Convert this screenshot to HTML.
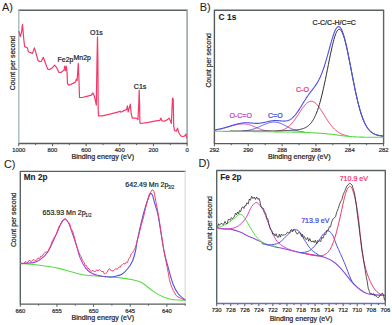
<!DOCTYPE html>
<html><head><meta charset="utf-8"><style>
html,body{margin:0;padding:0;background:#fff;}
svg{display:block;font-family:"Liberation Sans", sans-serif;}
</style></head><body>
<svg width="392" height="325" viewBox="0 0 392 325">
<rect width="392" height="325" fill="#fff"/>
<text x="2.0" y="10.9" text-anchor="start" font-size="10.9" font-weight="normal" fill="#1e1e1e" stroke="#1e1e1e" stroke-width="0.05" >A)</text>
<line x1="18.3" y1="10.3" x2="187.6" y2="10.3" stroke="#586064" stroke-width="1.4"/>
<line x1="187.1" y1="10.3" x2="187.1" y2="143.5" stroke="#8c9a9c" stroke-width="1.4"/>
<line x1="18.3" y1="143.5" x2="187.6" y2="143.5" stroke="#555c5c" stroke-width="1.4"/>
<line x1="18.8" y1="10.3" x2="18.8" y2="143.5" stroke="#a6bcc0" stroke-width="1.4"/>
<line x1="18.80" y1="143.5" x2="18.80" y2="146.2" stroke="#555c60" stroke-width="1"/>
<text x="18.80" y="152.2" text-anchor="middle" font-size="5.9" fill="#2a2a2a" stroke="#2a2a2a" stroke-width="0.2">1000</text>
<line x1="35.63" y1="143.5" x2="35.63" y2="145.1" stroke="#555c60" stroke-width="1"/>
<line x1="52.46" y1="143.5" x2="52.46" y2="146.2" stroke="#555c60" stroke-width="1"/>
<text x="52.46" y="152.2" text-anchor="middle" font-size="5.9" fill="#2a2a2a" stroke="#2a2a2a" stroke-width="0.2">800</text>
<line x1="69.29" y1="143.5" x2="69.29" y2="145.1" stroke="#555c60" stroke-width="1"/>
<line x1="86.12" y1="143.5" x2="86.12" y2="146.2" stroke="#555c60" stroke-width="1"/>
<text x="86.12" y="152.2" text-anchor="middle" font-size="5.9" fill="#2a2a2a" stroke="#2a2a2a" stroke-width="0.2">600</text>
<line x1="102.95" y1="143.5" x2="102.95" y2="145.1" stroke="#555c60" stroke-width="1"/>
<line x1="119.78" y1="143.5" x2="119.78" y2="146.2" stroke="#555c60" stroke-width="1"/>
<text x="119.78" y="152.2" text-anchor="middle" font-size="5.9" fill="#2a2a2a" stroke="#2a2a2a" stroke-width="0.2">400</text>
<line x1="136.61" y1="143.5" x2="136.61" y2="145.1" stroke="#555c60" stroke-width="1"/>
<line x1="153.44" y1="143.5" x2="153.44" y2="146.2" stroke="#555c60" stroke-width="1"/>
<text x="153.44" y="152.2" text-anchor="middle" font-size="5.9" fill="#2a2a2a" stroke="#2a2a2a" stroke-width="0.2">200</text>
<line x1="170.27" y1="143.5" x2="170.27" y2="145.1" stroke="#555c60" stroke-width="1"/>
<line x1="187.10" y1="143.5" x2="187.10" y2="146.2" stroke="#555c60" stroke-width="1"/>
<text x="187.10" y="152.2" text-anchor="middle" font-size="5.9" fill="#2a2a2a" stroke="#2a2a2a" stroke-width="0.2">0</text>
<text x="102.8" y="158.9" text-anchor="middle" font-size="7.1" font-weight="normal" fill="#1e1e1e" stroke="#1e1e1e" stroke-width="0.22" >Binding energy (eV)</text>
<text x="0" y="0" transform="translate(15.3,63.0) rotate(-90)" text-anchor="middle" font-size="6.9" fill="#1e1e1e" stroke="#1e1e1e" stroke-width="0.2">Count per second</text>
<text x="90.0" y="35.0" text-anchor="start" font-size="7.0" font-weight="normal" fill="#1e1e1e" stroke="#1e1e1e" stroke-width="0.22" >O1s</text>
<text x="57.6" y="62.3" text-anchor="start" font-size="6.9" font-weight="normal" fill="#1e1e1e" stroke="#1e1e1e" stroke-width="0.22" >Fe2p</text>
<text x="73.6" y="59.8" text-anchor="start" font-size="6.9" font-weight="normal" fill="#1e1e1e" stroke="#1e1e1e" stroke-width="0.22" >Mn2p</text>
<text x="133.8" y="88.9" text-anchor="start" font-size="7.1" font-weight="normal" fill="#1e1e1e" stroke="#1e1e1e" stroke-width="0.22" >C1s</text>
<polyline points="18.60,32.30 19.10,31.70 20.30,36.60 21.50,32.30 22.50,24.30 23.10,31.10 23.80,39.70 24.60,46.50 25.80,47.10 27.30,47.70 28.30,51.40 30.00,52.40 32.50,53.40 34.40,47.90 35.90,52.90 37.90,60.20 39.80,61.70 41.30,61.20 43.30,57.30 45.30,62.70 47.70,69.10 49.70,69.60 52.10,68.10 54.60,65.20 56.60,67.60 59.00,72.50 61.00,72.50 62.20,71.40 64.00,70.20 64.80,66.00 65.50,70.60 66.30,66.00 67.10,72.90 67.50,83.70 69.10,85.20 72.90,83.40 75.20,82.20 76.50,79.00 77.10,80.60 78.30,63.40 79.10,83.70 79.50,97.50 82.20,97.50 86.80,96.30 91.40,95.20 92.90,92.90 94.20,95.70 95.70,102.20 96.30,105.20 97.00,60.00 97.50,36.90 97.90,60.00 98.20,110.00 98.50,115.80 102.30,115.80 110.00,114.20 118.50,111.90 120.00,111.20 120.80,112.20 124.60,110.40 126.60,109.60 127.40,105.80 128.20,111.90 130.30,104.20 131.20,113.50 132.30,118.10 136.20,118.10 138.00,119.60 138.90,100.00 139.20,90.00 139.50,100.00 139.90,122.70 140.60,123.50 148.30,122.40 154.50,121.20 159.80,120.40 160.90,118.10 161.80,120.80 164.50,121.20 167.50,119.60 169.10,118.10 170.20,120.40 171.40,123.50 172.50,98.10 173.20,98.80 173.70,125.80 174.50,130.40 176.30,131.20 177.50,128.10 178.80,132.70 180.60,135.80 182.20,136.50 184.50,136.20 186.00,134.20 186.80,138.10" fill="none" stroke="#f23a68" stroke-width="1.2" stroke-linejoin="round"/>
<text x="199.8" y="10.9" text-anchor="start" font-size="10.9" font-weight="normal" fill="#1e1e1e" stroke="#1e1e1e" stroke-width="0.05" >B)</text>
<line x1="213.9" y1="10.3" x2="384.1" y2="10.3" stroke="#586064" stroke-width="1.4"/>
<line x1="383.6" y1="10.3" x2="383.6" y2="143.6" stroke="#5a6468" stroke-width="1.4"/>
<line x1="213.9" y1="143.6" x2="384.1" y2="143.6" stroke="#555c5c" stroke-width="1.4"/>
<line x1="214.4" y1="10.3" x2="214.4" y2="143.6" stroke="#505a5a" stroke-width="1.4"/>
<line x1="214.40" y1="143.6" x2="214.40" y2="146.29999999999998" stroke="#555c60" stroke-width="1"/>
<text x="214.40" y="152.2" text-anchor="middle" font-size="5.9" fill="#2a2a2a" stroke="#2a2a2a" stroke-width="0.2">292</text>
<line x1="231.32" y1="143.6" x2="231.32" y2="145.2" stroke="#555c60" stroke-width="1"/>
<line x1="248.24" y1="143.6" x2="248.24" y2="146.29999999999998" stroke="#555c60" stroke-width="1"/>
<text x="248.24" y="152.2" text-anchor="middle" font-size="5.9" fill="#2a2a2a" stroke="#2a2a2a" stroke-width="0.2">290</text>
<line x1="265.16" y1="143.6" x2="265.16" y2="145.2" stroke="#555c60" stroke-width="1"/>
<line x1="282.08" y1="143.6" x2="282.08" y2="146.29999999999998" stroke="#555c60" stroke-width="1"/>
<text x="282.08" y="152.2" text-anchor="middle" font-size="5.9" fill="#2a2a2a" stroke="#2a2a2a" stroke-width="0.2">288</text>
<line x1="299.00" y1="143.6" x2="299.00" y2="145.2" stroke="#555c60" stroke-width="1"/>
<line x1="315.92" y1="143.6" x2="315.92" y2="146.29999999999998" stroke="#555c60" stroke-width="1"/>
<text x="315.92" y="152.2" text-anchor="middle" font-size="5.9" fill="#2a2a2a" stroke="#2a2a2a" stroke-width="0.2">286</text>
<line x1="332.84" y1="143.6" x2="332.84" y2="145.2" stroke="#555c60" stroke-width="1"/>
<line x1="349.76" y1="143.6" x2="349.76" y2="146.29999999999998" stroke="#555c60" stroke-width="1"/>
<text x="349.76" y="152.2" text-anchor="middle" font-size="5.9" fill="#2a2a2a" stroke="#2a2a2a" stroke-width="0.2">284</text>
<line x1="366.68" y1="143.6" x2="366.68" y2="145.2" stroke="#555c60" stroke-width="1"/>
<line x1="383.60" y1="143.6" x2="383.60" y2="146.29999999999998" stroke="#555c60" stroke-width="1"/>
<text x="383.60" y="152.2" text-anchor="middle" font-size="5.9" fill="#2a2a2a" stroke="#2a2a2a" stroke-width="0.2">282</text>
<text x="299.3" y="159.3" text-anchor="middle" font-size="7.1" font-weight="normal" fill="#1e1e1e" stroke="#1e1e1e" stroke-width="0.22" >Binding energy (eV)</text>
<text x="0" y="0" transform="translate(211.0,60.4) rotate(-90)" text-anchor="middle" font-size="6.9" fill="#1e1e1e" stroke="#1e1e1e" stroke-width="0.2">Count per second</text>
<text x="218.6" y="20.2" text-anchor="start" font-size="8.4" font-weight="bold" fill="#1e1e1e" stroke="#1e1e1e" stroke-width="0.1" >C 1s</text>
<text x="312.6" y="24.8" text-anchor="start" font-size="7.05" font-weight="normal" fill="#1e1e1e" stroke="#1e1e1e" stroke-width="0.22" >C-C/C-H/C=C</text>
<text x="296.0" y="92.2" text-anchor="start" font-size="7.05" font-weight="normal" fill="#f0306a" stroke="#f0306a" stroke-width="0.22" >C-O</text>
<text x="268.0" y="118.4" text-anchor="start" font-size="7.05" font-weight="normal" fill="#4048e0" stroke="#4048e0" stroke-width="0.22" >C=O</text>
<text x="229.4" y="117.7" text-anchor="start" font-size="7.05" font-weight="normal" fill="#c83cd0" stroke="#c83cd0" stroke-width="0.22" >O-C=O</text>
<polyline points="214.40,130.22 214.90,130.14 215.40,130.07 215.90,129.99 216.40,129.91 216.90,129.82 217.40,129.73 217.90,129.64 218.40,129.54 218.90,129.44 219.40,129.33 219.90,129.22 220.40,129.11 220.90,128.99 221.40,128.88 221.90,128.75 222.40,128.63 222.90,128.50 223.40,128.37 223.90,128.23 224.40,128.09 224.90,127.95 225.40,127.81 225.90,127.67 226.40,127.52 226.90,127.37 227.40,127.23 227.90,127.08 228.40,126.93 228.90,126.77 229.40,126.62 229.90,126.47 230.40,126.32 230.90,126.18 231.40,126.03 231.90,125.88 232.40,125.74 232.90,125.60 233.40,125.46 233.90,125.33 234.40,125.20 234.90,125.08 235.40,124.95 235.90,124.84 236.40,124.73 236.90,124.62 237.40,124.52 237.90,124.43 238.40,124.34 238.90,124.26 239.40,124.19 239.90,124.12 240.40,124.06 240.90,124.01 241.40,123.97 241.90,123.94 242.40,123.91 242.90,123.89 243.40,123.89 243.90,123.88 244.40,123.89 244.90,123.92 245.40,123.96 245.90,124.02 246.40,124.09 246.90,124.18 247.40,124.28 247.90,124.39 248.40,124.52 248.90,124.66 249.40,124.81 249.90,124.97 250.40,125.14 250.90,125.32 251.40,125.50 251.90,125.70 252.40,125.90 252.90,126.10 253.40,126.31 253.90,126.52 254.40,126.73 254.90,126.95 255.40,127.16 255.90,127.38 256.40,127.59 256.90,127.80 257.40,128.01 257.90,128.21 258.40,128.41 258.90,128.60 259.40,128.79 259.90,128.98 260.40,129.16 260.90,129.33 261.40,129.49 261.90,129.65 262.40,129.80 262.90,129.95 263.40,130.08 263.90,130.21 264.40,130.34 264.90,130.46 265.40,130.57 265.90,130.67 266.40,130.77 266.90,130.86 267.40,130.94 267.90,131.02 268.40,131.10 268.90,131.17 269.40,131.23 269.90,131.29 270.40,131.35 270.90,131.40" fill="none" stroke="#d642c8" stroke-width="1.0" stroke-linejoin="round"/>
<polyline points="241.90,131.08 242.40,131.05 242.90,131.01 243.40,130.97 243.90,130.92 244.40,130.87 244.90,130.82 245.40,130.76 245.90,130.70 246.40,130.63 246.90,130.56 247.40,130.48 247.90,130.40 248.40,130.31 248.90,130.21 249.40,130.11 249.90,130.00 250.40,129.89 250.90,129.77 251.40,129.64 251.90,129.51 252.40,129.37 252.90,129.22 253.40,129.07 253.90,128.91 254.40,128.74 254.90,128.57 255.40,128.39 255.90,128.20 256.40,128.01 256.90,127.81 257.40,127.61 257.90,127.40 258.40,127.19 258.90,126.98 259.40,126.76 259.90,126.54 260.40,126.31 260.90,126.09 261.40,125.86 261.90,125.64 262.40,125.41 262.90,125.18 263.40,124.96 263.90,124.74 264.40,124.52 264.90,124.31 265.40,124.10 265.90,123.90 266.40,123.70 266.90,123.51 267.40,123.33 267.90,123.16 268.40,123.00 268.90,122.85 269.40,122.71 269.90,122.58 270.40,122.46 270.90,122.36 271.40,122.27 271.90,122.19 272.40,122.13 272.90,122.08 273.40,122.05 273.90,122.03 274.40,122.03 274.90,122.04 275.40,122.07 275.90,122.12 276.40,122.19 276.90,122.27 277.40,122.37 277.90,122.49 278.40,122.62 278.90,122.77 279.40,122.93 279.90,123.11 280.40,123.30 280.90,123.50 281.40,123.71 281.90,123.94 282.40,124.17 282.90,124.40 283.40,124.65 283.90,124.90 284.40,125.16 284.90,125.41 285.40,125.68 285.90,125.94 286.40,126.20 286.90,126.46 287.40,126.72 287.90,126.98 288.40,127.24 288.90,127.49 289.40,127.74 289.90,127.98 290.40,128.22 290.90,128.45 291.40,128.67 291.90,128.89 292.40,129.10 292.90,129.31 293.40,129.50 293.90,129.69 294.40,129.87 294.90,130.04 295.40,130.21 295.90,130.36 296.40,130.51 296.90,130.66 297.40,130.79 297.90,130.92 298.40,131.04 298.90,131.15 299.40,131.26 299.90,131.36 300.40,131.46 300.90,131.55 301.40,131.64 301.90,131.72 302.40,131.79 302.90,131.86 303.40,131.93 303.90,132.00 304.40,132.06" fill="none" stroke="#4f52e6" stroke-width="1.0" stroke-linejoin="round"/>
<polyline points="274.90,131.48 275.40,131.44 275.90,131.39 276.40,131.34 276.90,131.28 277.40,131.22 277.90,131.15 278.40,131.07 278.90,130.98 279.40,130.89 279.90,130.78 280.40,130.66 280.90,130.53 281.40,130.39 281.90,130.24 282.40,130.07 282.90,129.89 283.40,129.69 283.90,129.47 284.40,129.24 284.90,128.99 285.40,128.73 285.90,128.44 286.40,128.13 286.90,127.80 287.40,127.46 287.90,127.08 288.40,126.69 288.90,126.28 289.40,125.84 289.90,125.37 290.40,124.89 290.90,124.38 291.40,123.85 291.90,123.29 292.40,122.71 292.90,122.11 293.40,121.49 293.90,120.85 294.40,120.19 294.90,119.51 295.40,118.81 295.90,118.10 296.40,117.37 296.90,116.63 297.40,115.88 297.90,115.12 298.40,114.36 298.90,113.59 299.40,112.82 299.90,112.05 300.40,111.29 300.90,110.54 301.40,109.79 301.90,109.06 302.40,108.34 302.90,107.64 303.40,106.97 303.90,106.31 304.40,105.69 304.90,105.10 305.40,104.54 305.90,104.01 306.40,103.53 306.90,103.09 307.40,102.68 307.90,102.33 308.40,102.02 308.90,101.76 309.40,101.55 309.90,101.39 310.40,101.28 310.90,101.23 311.40,101.23 311.90,101.28 312.40,101.38 312.90,101.54 313.40,101.74 313.90,102.00 314.40,102.30 314.90,102.65 315.40,103.04 315.90,103.48 316.40,103.97 316.90,104.49 317.40,105.05 317.90,105.64 318.40,106.27 318.90,106.93 319.40,107.62 319.90,108.33 320.40,109.06 320.90,109.81 321.40,110.58 321.90,111.37 322.40,112.16 322.90,112.96 323.40,113.77 323.90,114.58 324.40,115.39 324.90,116.20 325.40,117.00 325.90,117.80 326.40,118.59 326.90,119.37 327.40,120.14 327.90,120.89 328.40,121.63 328.90,122.36 329.40,123.06 329.90,123.75 330.40,124.41 330.90,125.06 331.40,125.69 331.90,126.29 332.40,126.87 332.90,127.44 333.40,127.97 333.90,128.49 334.40,128.99 334.90,129.46 335.40,129.91 335.90,130.35 336.40,130.76 336.90,131.15 337.40,131.52 337.90,131.87 338.40,132.21 338.90,132.52 339.40,132.82 339.90,133.10 340.40,133.37 340.90,133.62 341.40,133.86 341.90,134.08 342.40,134.29 342.90,134.49 343.40,134.67 343.90,134.84 344.40,135.01 344.90,135.16 345.40,135.30 345.90,135.44 346.40,135.56 346.90,135.68 347.40,135.79 347.90,135.89 348.40,135.99" fill="none" stroke="#f23a68" stroke-width="1.0" stroke-linejoin="round"/>
<polyline points="229.90,131.01 230.40,131.01 230.90,131.01 231.40,131.01 231.90,131.01 232.40,131.01 232.90,131.01 233.40,131.01 233.90,131.01 234.40,131.01 234.90,131.01 235.40,131.01 235.90,131.01 236.40,131.01 236.90,131.01 237.40,131.01 237.90,131.01 238.40,131.02 238.90,131.02 239.40,131.02 239.90,131.02 240.40,131.02 240.90,131.02 241.40,131.02 241.90,131.02 242.40,131.02 242.90,131.02 243.40,131.02 243.90,131.02 244.40,131.02 244.90,131.02 245.40,131.02 245.90,131.02 246.40,131.02 246.90,131.03 247.40,131.03 247.90,131.03 248.40,131.03 248.90,131.03 249.40,131.02 249.90,131.02 250.40,131.02 250.90,131.02 251.40,131.02 251.90,131.02 252.40,131.02 252.90,131.02 253.40,131.02 253.90,131.02 254.40,131.02 254.90,131.01 255.40,131.01 255.90,131.01 256.40,131.01 256.90,131.01 257.40,131.00 257.90,131.00 258.40,131.00 258.90,131.00 259.40,130.99 259.90,130.99 260.40,130.99 260.90,130.99 261.40,130.98 261.90,130.98 262.40,130.98 262.90,130.97 263.40,130.97 263.90,130.97 264.40,130.96 264.90,130.96 265.40,130.95 265.90,130.95 266.40,130.95 266.90,130.94 267.40,130.94 267.90,130.93 268.40,130.93 268.90,130.92 269.40,130.92 269.90,130.91 270.40,130.91 270.90,130.90 271.40,130.90 271.90,130.89 272.40,130.88 272.90,130.88 273.40,130.87 273.90,130.86 274.40,130.86 274.90,130.85 275.40,130.84 275.90,130.83 276.40,130.82 276.90,130.81 277.40,130.81 277.90,130.80 278.40,130.79 278.90,130.78 279.40,130.76 279.90,130.75 280.40,130.74 280.90,130.73 281.40,130.72 281.90,130.70 282.40,130.69 282.90,130.67 283.40,130.66 283.90,130.64 284.40,130.63 284.90,130.61 285.40,130.59 285.90,130.57 286.40,130.56 286.90,130.54 287.40,130.52 287.90,130.49 288.40,130.47 288.90,130.45 289.40,130.42 289.90,130.40 290.40,130.37 290.90,130.34 291.40,130.32 291.90,130.28 292.40,130.25 292.90,130.22 293.40,130.18 293.90,130.14 294.40,130.10 294.90,130.06 295.40,130.01 295.90,129.96 296.40,129.91 296.90,129.85 297.40,129.79 297.90,129.73 298.40,129.66 298.90,129.58 299.40,129.49 299.90,129.40 300.40,129.30 300.90,129.19 301.40,129.08 301.90,128.95 302.40,128.81 302.90,128.65 303.40,128.48 303.90,128.30 304.40,128.10 304.90,127.88 305.40,127.64 305.90,127.38 306.40,127.10 306.90,126.79 307.40,126.45 307.90,126.09 308.40,125.69 308.90,125.26 309.40,124.80 309.90,124.29 310.40,123.75 310.90,123.16 311.40,122.53 311.90,121.85 312.40,121.12 312.90,120.34 313.40,119.50 313.90,118.60 314.40,117.65 314.90,116.63 315.40,115.55 315.90,114.40 316.40,113.19 316.90,111.91 317.40,110.55 317.90,109.13 318.40,107.63 318.90,106.06 319.40,104.41 319.90,102.69 320.40,100.90 320.90,99.04 321.40,97.11 321.90,95.11 322.40,93.04 322.90,90.91 323.40,88.72 323.90,86.47 324.40,84.17 324.90,81.83 325.40,79.44 325.90,77.01 326.40,74.55 326.90,72.07 327.40,69.57 327.90,67.06 328.40,64.55 328.90,62.05 329.40,59.56 329.90,57.10 330.40,54.68 330.90,52.31 331.40,49.99 331.90,47.74 332.40,45.56 332.90,43.48 333.40,41.50 333.90,39.63 334.40,37.89 334.90,36.28 335.40,34.81 335.90,33.50 336.40,32.35 336.90,31.37 337.40,30.58 337.90,29.96 338.40,29.54 338.90,29.31 339.40,29.28 339.90,29.44 340.40,29.78 340.90,30.30 341.40,30.99 341.90,31.86 342.40,32.90 342.90,34.09 343.40,35.45 343.90,36.95 344.40,38.59 344.90,40.37 345.40,42.26 345.90,44.27 346.40,46.38 346.90,48.59 347.40,50.87 347.90,53.24 348.40,55.66 348.90,58.14 349.40,60.66 349.90,63.21 350.40,65.79 350.90,68.38 351.40,70.98 351.90,73.58 352.40,76.17 352.90,78.74 353.40,81.28 353.90,83.80 354.40,86.27 354.90,88.70 355.40,91.08 355.90,93.41 356.40,95.68 356.90,97.89 357.40,100.03 357.90,102.10 358.40,104.11 358.90,106.04 359.40,107.89 359.90,109.68 360.40,111.38 360.90,113.01 361.40,114.57 361.90,116.05 362.40,117.46 362.90,118.79 363.40,120.05 363.90,121.24 364.40,122.37 364.90,123.43 365.40,124.42 365.90,125.35 366.40,126.22 366.90,127.04 367.40,127.80 367.90,128.50 368.40,129.16 368.90,129.77 369.40,130.33 369.90,130.86 370.40,131.34 370.90,131.79 371.40,132.20 371.90,132.58 372.40,132.92 372.90,133.24 373.40,133.53 373.90,133.80 374.40,134.05 374.90,134.27 375.40,134.47 375.90,134.66 376.40,134.83 376.90,134.98 377.40,135.12 377.90,135.25 378.40,135.37 378.90,135.48 379.40,135.57 379.90,135.66 380.40,135.74 380.90,135.82 381.40,135.88 381.90,135.95 382.40,136.00 382.90,136.05 383.40,136.10" fill="none" stroke="#2c2c2c" stroke-width="1.0" stroke-linejoin="round"/>
<polyline points="214.40,131.30 214.90,131.30 215.40,131.30 215.90,131.30 216.40,131.30 216.90,131.31 217.40,131.31 217.90,131.31 218.40,131.31 218.90,131.31 219.40,131.31 219.90,131.31 220.40,131.32 220.90,131.32 221.40,131.32 221.90,131.32 222.40,131.32 222.90,131.32 223.40,131.33 223.90,131.33 224.40,131.33 224.90,131.33 225.40,131.33 225.90,131.34 226.40,131.34 226.90,131.34 227.40,131.35 227.90,131.35 228.40,131.35 228.90,131.35 229.40,131.36 229.90,131.36 230.40,131.36 230.90,131.37 231.40,131.37 231.90,131.37 232.40,131.38 232.90,131.38 233.40,131.39 233.90,131.39 234.40,131.39 234.90,131.40 235.40,131.40 235.90,131.41 236.40,131.41 236.90,131.42 237.40,131.42 237.90,131.42 238.40,131.43 238.90,131.43 239.40,131.44 239.90,131.44 240.40,131.45 240.90,131.45 241.40,131.46 241.90,131.46 242.40,131.47 242.90,131.47 243.40,131.48 243.90,131.48 244.40,131.49 244.90,131.50 245.40,131.50 245.90,131.51 246.40,131.51 246.90,131.52 247.40,131.52 247.90,131.53 248.40,131.53 248.90,131.54 249.40,131.54 249.90,131.55 250.40,131.55 250.90,131.56 251.40,131.56 251.90,131.57 252.40,131.57 252.90,131.58 253.40,131.59 253.90,131.59 254.40,131.60 254.90,131.60 255.40,131.61 255.90,131.61 256.40,131.62 256.90,131.62 257.40,131.63 257.90,131.63 258.40,131.64 258.90,131.64 259.40,131.65 259.90,131.65 260.40,131.66 260.90,131.66 261.40,131.67 261.90,131.67 262.40,131.68 262.90,131.68 263.40,131.69 263.90,131.69 264.40,131.70 264.90,131.71 265.40,131.71 265.90,131.72 266.40,131.72 266.90,131.73 267.40,131.74 267.90,131.74 268.40,131.75 268.90,131.75 269.40,131.76 269.90,131.77 270.40,131.77 270.90,131.78 271.40,131.79 271.90,131.79 272.40,131.80 272.90,131.81 273.40,131.81 273.90,131.82 274.40,131.83 274.90,131.84 275.40,131.84 275.90,131.85 276.40,131.86 276.90,131.86 277.40,131.87 277.90,131.88 278.40,131.88 278.90,131.89 279.40,131.90 279.90,131.90 280.40,131.91 280.90,131.92 281.40,131.92 281.90,131.93 282.40,131.94 282.90,131.94 283.40,131.95 283.90,131.96 284.40,131.96 284.90,131.97 285.40,131.98 285.90,131.98 286.40,131.99 286.90,132.00 287.40,132.00 287.90,132.01 288.40,132.02 288.90,132.03 289.40,132.03 289.90,132.04 290.40,132.05 290.90,132.06 291.40,132.06 291.90,132.07 292.40,132.08 292.90,132.09 293.40,132.10 293.90,132.11 294.40,132.12 294.90,132.13 295.40,132.14 295.90,132.15 296.40,132.16 296.90,132.17 297.40,132.19 297.90,132.20 298.40,132.21 298.90,132.23 299.40,132.24 299.90,132.26 300.40,132.27 300.90,132.29 301.40,132.30 301.90,132.32 302.40,132.34 302.90,132.35 303.40,132.37 303.90,132.39 304.40,132.41 304.90,132.43 305.40,132.45 305.90,132.47 306.40,132.49 306.90,132.51 307.40,132.54 307.90,132.56 308.40,132.58 308.90,132.60 309.40,132.63 309.90,132.65 310.40,132.68 310.90,132.70 311.40,132.73 311.90,132.75 312.40,132.78 312.90,132.81 313.40,132.83 313.90,132.86 314.40,132.89 314.90,132.92 315.40,132.95 315.90,132.98 316.40,133.01 316.90,133.04 317.40,133.07 317.90,133.10 318.40,133.13 318.90,133.16 319.40,133.20 319.90,133.23 320.40,133.27 320.90,133.30 321.40,133.34 321.90,133.37 322.40,133.41 322.90,133.45 323.40,133.49 323.90,133.53 324.40,133.57 324.90,133.61 325.40,133.66 325.90,133.70 326.40,133.75 326.90,133.79 327.40,133.84 327.90,133.89 328.40,133.94 328.90,133.99 329.40,134.04 329.90,134.10 330.40,134.15 330.90,134.21 331.40,134.26 331.90,134.32 332.40,134.38 332.90,134.44 333.40,134.50 333.90,134.56 334.40,134.63 334.90,134.69 335.40,134.75 335.90,134.82 336.40,134.88 336.90,134.95 337.40,135.02 337.90,135.08 338.40,135.15 338.90,135.22 339.40,135.28 339.90,135.35 340.40,135.41 340.90,135.48 341.40,135.54 341.90,135.61 342.40,135.67 342.90,135.74 343.40,135.80 343.90,135.86 344.40,135.92 344.90,135.98 345.40,136.04 345.90,136.09 346.40,136.15 346.90,136.20 347.40,136.25 347.90,136.30 348.40,136.35 348.90,136.40 349.40,136.45 349.90,136.49 350.40,136.54 350.90,136.58 351.40,136.62 351.90,136.66 352.40,136.70 352.90,136.73 353.40,136.76 353.90,136.80 354.40,136.83 354.90,136.86 355.40,136.89 355.90,136.91 356.40,136.94 356.90,136.96 357.40,136.98 357.90,137.01 358.40,137.03 358.90,137.05 359.40,137.06 359.90,137.08 360.40,137.10 360.90,137.11 361.40,137.12 361.90,137.14 362.40,137.15 362.90,137.16 363.40,137.17 363.90,137.18 364.40,137.19 364.90,137.20 365.40,137.21 365.90,137.21 366.40,137.22 366.90,137.23 367.40,137.23 367.90,137.24 368.40,137.24 368.90,137.25 369.40,137.25 369.90,137.25 370.40,137.26 370.90,137.26 371.40,137.26 371.90,137.27 372.40,137.27 372.90,137.27 373.40,137.28 373.90,137.28 374.40,137.28 374.90,137.28 375.40,137.28 375.90,137.28 376.40,137.29 376.90,137.29 377.40,137.29 377.90,137.29 378.40,137.29 378.90,137.29 379.40,137.29 379.90,137.29 380.40,137.30 380.90,137.30 381.40,137.30 381.90,137.30 382.40,137.30 382.90,137.30 383.40,137.30" fill="none" stroke="#58dc44" stroke-width="1.1" stroke-linejoin="round"/>
<polyline points="214.40,129.94 214.90,129.87 215.40,129.79 215.90,129.71 216.40,129.63 216.90,129.54 217.40,129.44 217.90,129.35 218.40,129.25 218.90,129.14 219.40,129.04 219.90,128.92 220.40,128.81 220.90,128.69 221.40,128.57 221.90,128.44 222.40,128.31 222.90,128.18 223.40,128.05 223.90,127.91 224.40,127.77 224.90,127.63 225.40,127.48 225.90,127.33 226.40,127.18 226.90,127.03 227.40,126.88 227.90,126.72 228.40,126.57 228.90,126.41 229.40,126.25 229.90,126.10 230.40,125.94 230.90,125.79 231.40,125.63 231.90,125.48 232.40,125.33 232.90,125.18 233.40,125.03 233.90,124.89 234.40,124.75 234.90,124.61 235.40,124.47 235.90,124.34 236.40,124.21 236.90,124.09 237.40,123.97 237.90,123.85 238.40,123.74 238.90,123.64 239.40,123.54 239.90,123.44 240.40,123.35 240.90,123.27 241.40,123.19 241.90,123.11 242.40,123.04 242.90,122.98 243.40,122.92 243.90,122.86 244.40,122.81 244.90,122.77 245.40,122.75 245.90,122.73 246.40,122.72 246.90,122.73 247.40,122.74 247.90,122.76 248.40,122.78 248.90,122.82 249.40,122.85 249.90,122.90 250.40,122.94 250.90,122.99 251.40,123.04 251.90,123.09 252.40,123.14 252.90,123.18 253.40,123.22 253.90,123.26 254.40,123.30 254.90,123.33 255.40,123.35 255.90,123.37 256.40,123.38 256.90,123.38 257.40,123.37 257.90,123.35 258.40,123.33 258.90,123.29 259.40,123.25 259.90,123.20 260.40,123.14 260.90,123.07 261.40,123.00 261.90,122.91 262.40,122.82 262.90,122.72 263.40,122.62 263.90,122.51 264.40,122.40 264.90,122.29 265.40,122.17 265.90,122.05 266.40,121.93 266.90,121.81 267.40,121.70 267.90,121.58 268.40,121.47 268.90,121.36 269.40,121.25 269.90,121.15 270.40,121.06 270.90,120.97 271.40,120.89 271.90,120.82 272.40,120.75 272.90,120.70 273.40,120.65 273.90,120.61 274.40,120.57 274.90,120.55 275.40,120.54 275.90,120.53 276.40,120.54 276.90,120.56 277.40,120.58 277.90,120.62 278.40,120.66 278.90,120.70 279.40,120.75 279.90,120.80 280.40,120.85 280.90,120.90 281.40,120.95 281.90,120.99 282.40,121.03 282.90,121.06 283.40,121.08 283.90,121.09 284.40,121.09 284.90,121.07 285.40,121.03 285.90,120.98 286.40,120.90 286.90,120.80 287.40,120.68 287.90,120.54 288.40,120.36 288.90,120.16 289.40,119.93 289.90,119.67 290.40,119.38 290.90,119.06 291.40,118.71 291.90,118.32 292.40,117.90 292.90,117.46 293.40,116.98 293.90,116.46 294.40,115.92 294.90,115.35 295.40,114.75 295.90,114.12 296.40,113.47 296.90,112.79 297.40,112.09 297.90,111.37 298.40,110.63 298.90,109.87 299.40,109.10 299.90,108.31 300.40,107.51 300.90,106.71 301.40,105.90 301.90,105.08 302.40,104.27 302.90,103.45 303.40,102.64 303.90,101.83 304.40,101.03 304.90,100.23 305.40,99.45 305.90,98.68 306.40,97.91 306.90,97.16 307.40,96.43 307.90,95.70 308.40,94.99 308.90,94.30 309.40,93.61 309.90,92.94 310.40,92.27 310.90,91.62 311.40,90.97 311.90,90.32 312.40,89.68 312.90,89.03 313.40,88.37 313.90,87.71 314.40,87.03 314.90,86.34 315.40,85.63 315.90,84.89 316.40,84.13 316.90,83.34 317.40,82.52 317.90,81.66 318.40,80.76 318.90,79.82 319.40,78.82 319.90,77.78 320.40,76.69 320.90,75.55 321.40,74.35 321.90,73.10 322.40,71.79 322.90,70.42 323.40,69.00 323.90,67.52 324.40,65.99 324.90,64.41 325.40,62.78 325.90,61.11 326.40,59.39 326.90,57.64 327.40,55.87 327.90,54.06 328.40,52.24 328.90,50.41 329.40,48.58 329.90,46.75 330.40,44.94 330.90,43.16 331.40,41.41 331.90,39.70 332.40,38.06 332.90,36.48 333.40,34.97 333.90,33.56 334.40,32.25 334.90,31.05 335.40,29.97 335.90,29.03 336.40,28.22 336.90,27.57 337.40,27.08 337.90,26.75 338.40,26.60 338.90,26.62 339.40,26.82 339.90,27.19 340.40,27.73 340.90,28.44 341.40,29.30 341.90,30.33 342.40,31.51 342.90,32.84 343.40,34.32 343.90,35.94 344.40,37.68 344.90,39.55 345.40,41.53 345.90,43.61 346.40,45.80 346.90,48.06 347.40,50.41 347.90,52.82 348.40,55.29 348.90,57.81 349.40,60.37 349.90,62.96 350.40,65.57 350.90,68.19 351.40,70.81 351.90,73.43 352.40,76.04 352.90,78.62 353.40,81.18 353.90,83.71 354.40,86.20 354.90,88.64 355.40,91.03 355.90,93.36 356.40,95.64 356.90,97.85 357.40,100.00 357.90,102.08 358.40,104.08 358.90,106.02 359.40,107.88 359.90,109.66 360.40,111.37 360.90,113.00 361.40,114.56 361.90,116.04 362.40,117.45 362.90,118.78 363.40,120.05 363.90,121.24 364.40,122.36 364.90,123.42 365.40,124.42 365.90,125.35 366.40,126.22 366.90,127.03 367.40,127.79 367.90,128.50 368.40,129.16 368.90,129.77 369.40,130.33 369.90,130.86 370.40,131.34 370.90,131.79 371.40,132.20 371.90,132.58 372.40,132.92 372.90,133.24 373.40,133.53 373.90,133.80 374.40,134.05 374.90,134.27 375.40,134.47 375.90,134.66 376.40,134.83 376.90,134.98 377.40,135.12 377.90,135.25 378.40,135.37 378.90,135.48 379.40,135.57 379.90,135.66 380.40,135.74 380.90,135.82 381.40,135.88 381.90,135.95 382.40,136.00 382.90,136.05 383.40,136.10" fill="none" stroke="#4f52e6" stroke-width="1.1" stroke-linejoin="round"/>
<text x="4.0" y="167.6" text-anchor="start" font-size="10.9" font-weight="normal" fill="#1e1e1e" stroke="#1e1e1e" stroke-width="0.05" >C)</text>
<line x1="19.8" y1="171.4" x2="185.7" y2="171.4" stroke="#586064" stroke-width="1.4"/>
<line x1="185.2" y1="171.4" x2="185.2" y2="304.1" stroke="#d8e4e4" stroke-width="1.4"/>
<line x1="19.8" y1="304.1" x2="185.7" y2="304.1" stroke="#555c5c" stroke-width="1.4"/>
<line x1="20.3" y1="171.4" x2="20.3" y2="304.1" stroke="#5a6466" stroke-width="1.4"/>
<line x1="20.30" y1="304.1" x2="20.30" y2="306.8" stroke="#555c60" stroke-width="1"/>
<text x="20.30" y="313.0" text-anchor="middle" font-size="5.9" fill="#2a2a2a" stroke="#2a2a2a" stroke-width="0.2">660</text>
<line x1="38.62" y1="304.1" x2="38.62" y2="305.70000000000005" stroke="#555c60" stroke-width="1"/>
<line x1="56.94" y1="304.1" x2="56.94" y2="306.8" stroke="#555c60" stroke-width="1"/>
<text x="56.94" y="313.0" text-anchor="middle" font-size="5.9" fill="#2a2a2a" stroke="#2a2a2a" stroke-width="0.2">655</text>
<line x1="75.27" y1="304.1" x2="75.27" y2="305.70000000000005" stroke="#555c60" stroke-width="1"/>
<line x1="93.59" y1="304.1" x2="93.59" y2="306.8" stroke="#555c60" stroke-width="1"/>
<text x="93.59" y="313.0" text-anchor="middle" font-size="5.9" fill="#2a2a2a" stroke="#2a2a2a" stroke-width="0.2">650</text>
<line x1="111.91" y1="304.1" x2="111.91" y2="305.70000000000005" stroke="#555c60" stroke-width="1"/>
<line x1="130.23" y1="304.1" x2="130.23" y2="306.8" stroke="#555c60" stroke-width="1"/>
<text x="130.23" y="313.0" text-anchor="middle" font-size="5.9" fill="#2a2a2a" stroke="#2a2a2a" stroke-width="0.2">645</text>
<line x1="148.56" y1="304.1" x2="148.56" y2="305.70000000000005" stroke="#555c60" stroke-width="1"/>
<line x1="166.88" y1="304.1" x2="166.88" y2="306.8" stroke="#555c60" stroke-width="1"/>
<text x="166.88" y="313.0" text-anchor="middle" font-size="5.9" fill="#2a2a2a" stroke="#2a2a2a" stroke-width="0.2">640</text>
<line x1="185.20" y1="304.1" x2="185.20" y2="305.70000000000005" stroke="#555c60" stroke-width="1"/>
<text x="102.8" y="319.5" text-anchor="middle" font-size="7.1" font-weight="normal" fill="#1e1e1e" stroke="#1e1e1e" stroke-width="0.22" >Binding energy (eV)</text>
<text x="0" y="0" transform="translate(16.4,219.9) rotate(-90)" text-anchor="middle" font-size="6.9" fill="#1e1e1e" stroke="#1e1e1e" stroke-width="0.2">Count per second</text>
<text x="23.8" y="180.4" text-anchor="start" font-size="8.2" font-weight="bold" fill="#1e1e1e" stroke="#1e1e1e" stroke-width="0.1" >Mn 2p</text>
<text x="42.6" y="215.2" font-size="7.05" fill="#1e1e1e" stroke="#1e1e1e" stroke-width="0.2">653.93 Mn 2p<tspan font-size="4.5" dx="-0.4" dy="2.2" stroke-width="0.15">1/2</tspan></text>
<text x="125.3" y="186.9" font-size="7.05" fill="#1e1e1e" stroke="#1e1e1e" stroke-width="0.2">642.49 Mn 2p<tspan font-size="4.5" dx="-0.4" dy="2.2" stroke-width="0.15">3/2</tspan></text>
<path d="M20.50,263.50 C23.75,263.78 34.75,264.62 40.00,265.20 C45.25,265.78 48.67,266.43 52.00,267.00 C55.33,267.57 56.50,267.72 60.00,268.60 C63.50,269.48 68.67,271.20 73.00,272.30 C77.33,273.40 81.65,274.57 86.00,275.20 C90.35,275.83 93.62,275.70 99.10,276.10 C104.58,276.50 113.13,276.95 118.90,277.60 C124.67,278.25 129.93,279.18 133.70,280.00 C137.47,280.82 138.78,281.03 141.50,282.50 C144.22,283.97 147.58,287.03 150.00,288.80 C152.42,290.57 153.57,291.67 156.00,293.10 C158.43,294.53 162.02,296.33 164.60,297.40 C167.18,298.47 168.07,299.03 171.50,299.50 C174.93,299.97 182.92,300.08 185.20,300.20" fill="none" stroke="#58dc44" stroke-width="1.1" stroke-linejoin="round" stroke-linecap="round" opacity="1"/>
<path d="M21.00,263.60 C23.37,263.35 31.38,263.25 35.20,262.10 C39.02,260.95 41.57,258.78 43.90,256.70 C46.23,254.62 47.18,253.25 49.20,249.60 C51.22,245.95 54.05,239.10 56.00,234.80 C57.95,230.50 59.48,226.35 60.90,223.80 C62.32,221.25 63.32,219.80 64.50,219.50 C65.68,219.20 66.95,220.47 68.00,222.00 C69.05,223.53 69.32,224.53 70.80,228.70 C72.28,232.87 75.37,242.18 76.90,247.00 C78.43,251.82 78.52,254.03 80.00,257.60 C81.48,261.17 83.75,265.73 85.80,268.40 C87.85,271.07 90.08,272.40 92.30,273.60 C94.52,274.80 96.98,275.10 99.10,275.60 C101.22,276.10 104.02,276.43 105.00,276.60" fill="none" stroke="#9a48e0" stroke-width="1.1" stroke-linejoin="round" stroke-linecap="round" opacity="1"/>
<path d="M105.00,276.60 C105.93,276.68 109.10,277.12 110.60,277.10 C112.10,277.08 112.20,276.93 114.00,276.50 C115.80,276.07 119.15,275.75 121.40,274.50 C123.65,273.25 125.65,271.25 127.50,269.00 C129.35,266.75 131.17,264.00 132.50,261.00 C133.83,258.00 134.68,254.50 135.50,251.00 C136.32,247.50 136.17,245.83 137.40,240.00 C138.63,234.17 141.43,221.92 142.90,216.00 C144.37,210.08 145.22,207.67 146.20,204.50 C147.18,201.33 148.03,198.85 148.80,197.00 C149.57,195.15 150.13,193.57 150.80,193.40 C151.47,193.23 152.18,194.47 152.80,196.00 C153.42,197.53 153.60,199.27 154.50,202.60 C155.40,205.93 156.65,208.10 158.20,216.00 C159.75,223.90 162.15,241.47 163.80,250.00 C165.45,258.53 166.53,261.45 168.10,267.20 C169.67,272.95 171.48,280.03 173.20,284.50 C174.92,288.97 176.40,291.42 178.40,294.00 C180.40,296.58 184.07,299.00 185.20,300.00" fill="none" stroke="#4f52e6" stroke-width="1.1" stroke-linejoin="round" stroke-linecap="round" opacity="1"/>
<polyline points="21.00,262.73 22.04,263.59 23.53,263.52 25.00,262.19 26.19,261.73 27.35,262.88 28.80,260.61 29.95,260.50 31.27,261.71 32.66,260.01 34.01,259.58 35.20,260.83 36.74,259.95 38.06,257.89 39.60,258.60 40.80,256.09 42.17,256.33 43.57,253.93 44.89,252.46 46.00,252.00 47.79,252.09 49.20,248.66 50.83,245.36 52.50,240.31 53.67,238.64 54.86,236.34 56.00,234.91 57.60,230.69 59.00,226.28 60.04,225.06 60.90,223.78 61.65,221.62 62.50,220.33 63.81,219.53 65.20,218.47 66.38,219.31 67.50,221.18 68.67,222.46 69.70,223.86 70.26,225.70 70.80,228.82 71.66,229.50 72.90,232.02 74.16,236.34 75.64,242.39 77.00,247.35 78.36,251.15 80.00,255.18 81.06,256.25 82.32,260.30 83.68,261.48 85.07,265.28 86.40,265.54 87.70,268.53 89.02,268.59 90.33,270.89 91.60,271.23 92.80,270.41 94.17,271.46 95.43,271.59 96.66,269.72 97.90,271.08 99.24,269.66 100.61,270.43 101.91,271.92 103.00,271.12 104.37,273.92 105.50,273.55 106.97,272.58 108.70,269.19 109.72,268.72 110.83,270.54 112.00,270.73 113.20,271.16 114.51,269.56 115.91,268.69 117.24,269.42 118.30,267.52 119.34,266.87 120.20,267.54 121.27,265.18 122.53,264.56 123.80,263.33 125.03,264.15 126.26,262.20 127.50,262.37 128.73,258.69 129.97,257.54 131.20,253.94 132.48,252.98 133.76,250.62 134.90,248.27 136.16,244.89 137.40,239.68 138.55,235.80 139.82,230.90 141.00,225.71 142.42,221.29 143.80,215.82 145.47,208.55 147.10,201.95 148.34,197.50 149.50,193.67 150.89,191.87 152.20,189.87 153.15,190.08 154.00,191.35 154.89,196.05 155.90,201.49 157.04,207.62 158.60,215.83 159.77,223.73 161.16,233.01 162.57,241.98 163.80,250.15 165.06,256.64 166.13,261.77 167.20,267.46 168.30,273.10 169.41,279.42 170.70,284.29 171.88,287.44 173.19,290.42 174.53,292.76 175.80,295.14 176.96,295.98 178.08,297.04 179.18,297.17 180.30,298.15 181.57,298.39 182.93,299.28 184.15,299.37 185.00,299.88" fill="none" stroke="#f23a68" stroke-width="0.95" stroke-linejoin="round"/>
<text x="198.4" y="167.4" text-anchor="start" font-size="10.9" font-weight="normal" fill="#1e1e1e" stroke="#1e1e1e" stroke-width="0.05" >D)</text>
<line x1="216.2" y1="170.5" x2="385.8" y2="170.5" stroke="#586064" stroke-width="1.4"/>
<line x1="385.3" y1="170.5" x2="385.3" y2="303.5" stroke="#5a6468" stroke-width="1.4"/>
<line x1="216.2" y1="303.5" x2="385.8" y2="303.5" stroke="#6a70c0" stroke-width="1.4"/>
<line x1="216.7" y1="170.5" x2="216.7" y2="303.5" stroke="#5a6466" stroke-width="1.4"/>
<line x1="216.70" y1="303.5" x2="216.70" y2="306.2" stroke="#555c60" stroke-width="1"/>
<text x="216.70" y="312.0" text-anchor="middle" font-size="5.9" fill="#2a2a2a" stroke="#2a2a2a" stroke-width="0.2">730</text>
<line x1="223.72" y1="303.5" x2="223.72" y2="305.1" stroke="#555c60" stroke-width="1"/>
<line x1="230.75" y1="303.5" x2="230.75" y2="306.2" stroke="#555c60" stroke-width="1"/>
<text x="230.75" y="312.0" text-anchor="middle" font-size="5.9" fill="#2a2a2a" stroke="#2a2a2a" stroke-width="0.2">728</text>
<line x1="237.77" y1="303.5" x2="237.77" y2="305.1" stroke="#555c60" stroke-width="1"/>
<line x1="244.80" y1="303.5" x2="244.80" y2="306.2" stroke="#555c60" stroke-width="1"/>
<text x="244.80" y="312.0" text-anchor="middle" font-size="5.9" fill="#2a2a2a" stroke="#2a2a2a" stroke-width="0.2">726</text>
<line x1="251.82" y1="303.5" x2="251.82" y2="305.1" stroke="#555c60" stroke-width="1"/>
<line x1="258.85" y1="303.5" x2="258.85" y2="306.2" stroke="#555c60" stroke-width="1"/>
<text x="258.85" y="312.0" text-anchor="middle" font-size="5.9" fill="#2a2a2a" stroke="#2a2a2a" stroke-width="0.2">724</text>
<line x1="265.88" y1="303.5" x2="265.88" y2="305.1" stroke="#555c60" stroke-width="1"/>
<line x1="272.90" y1="303.5" x2="272.90" y2="306.2" stroke="#555c60" stroke-width="1"/>
<text x="272.90" y="312.0" text-anchor="middle" font-size="5.9" fill="#2a2a2a" stroke="#2a2a2a" stroke-width="0.2">722</text>
<line x1="279.93" y1="303.5" x2="279.93" y2="305.1" stroke="#555c60" stroke-width="1"/>
<line x1="286.95" y1="303.5" x2="286.95" y2="306.2" stroke="#555c60" stroke-width="1"/>
<text x="286.95" y="312.0" text-anchor="middle" font-size="5.9" fill="#2a2a2a" stroke="#2a2a2a" stroke-width="0.2">720</text>
<line x1="293.98" y1="303.5" x2="293.98" y2="305.1" stroke="#555c60" stroke-width="1"/>
<line x1="301.00" y1="303.5" x2="301.00" y2="306.2" stroke="#555c60" stroke-width="1"/>
<text x="301.00" y="312.0" text-anchor="middle" font-size="5.9" fill="#2a2a2a" stroke="#2a2a2a" stroke-width="0.2">718</text>
<line x1="308.02" y1="303.5" x2="308.02" y2="305.1" stroke="#555c60" stroke-width="1"/>
<line x1="315.05" y1="303.5" x2="315.05" y2="306.2" stroke="#555c60" stroke-width="1"/>
<text x="315.05" y="312.0" text-anchor="middle" font-size="5.9" fill="#2a2a2a" stroke="#2a2a2a" stroke-width="0.2">716</text>
<line x1="322.07" y1="303.5" x2="322.07" y2="305.1" stroke="#555c60" stroke-width="1"/>
<line x1="329.10" y1="303.5" x2="329.10" y2="306.2" stroke="#555c60" stroke-width="1"/>
<text x="329.10" y="312.0" text-anchor="middle" font-size="5.9" fill="#2a2a2a" stroke="#2a2a2a" stroke-width="0.2">714</text>
<line x1="336.12" y1="303.5" x2="336.12" y2="305.1" stroke="#555c60" stroke-width="1"/>
<line x1="343.15" y1="303.5" x2="343.15" y2="306.2" stroke="#555c60" stroke-width="1"/>
<text x="343.15" y="312.0" text-anchor="middle" font-size="5.9" fill="#2a2a2a" stroke="#2a2a2a" stroke-width="0.2">712</text>
<line x1="350.18" y1="303.5" x2="350.18" y2="305.1" stroke="#555c60" stroke-width="1"/>
<line x1="357.20" y1="303.5" x2="357.20" y2="306.2" stroke="#555c60" stroke-width="1"/>
<text x="357.20" y="312.0" text-anchor="middle" font-size="5.9" fill="#2a2a2a" stroke="#2a2a2a" stroke-width="0.2">710</text>
<line x1="364.23" y1="303.5" x2="364.23" y2="305.1" stroke="#555c60" stroke-width="1"/>
<line x1="371.25" y1="303.5" x2="371.25" y2="306.2" stroke="#555c60" stroke-width="1"/>
<text x="371.25" y="312.0" text-anchor="middle" font-size="5.9" fill="#2a2a2a" stroke="#2a2a2a" stroke-width="0.2">708</text>
<line x1="378.27" y1="303.5" x2="378.27" y2="305.1" stroke="#555c60" stroke-width="1"/>
<line x1="385.30" y1="303.5" x2="385.30" y2="306.2" stroke="#555c60" stroke-width="1"/>
<text x="385.30" y="312.0" text-anchor="middle" font-size="5.9" fill="#2a2a2a" stroke="#2a2a2a" stroke-width="0.2">706</text>
<text x="301" y="320.6" text-anchor="middle" font-size="7.1" font-weight="normal" fill="#1e1e1e" stroke="#1e1e1e" stroke-width="0.22" >Binding energy (eV)</text>
<text x="0" y="0" transform="translate(211.6,223.4) rotate(-90)" text-anchor="middle" font-size="6.9" fill="#1e1e1e" stroke="#1e1e1e" stroke-width="0.2">Count per second</text>
<text x="220.2" y="180.0" text-anchor="start" font-size="8.2" font-weight="bold" fill="#1e1e1e" stroke="#1e1e1e" stroke-width="0.1" >Fe 2p</text>
<text x="301.2" y="223.4" text-anchor="start" font-size="7.05" font-weight="normal" fill="#4048e0" stroke="#4048e0" stroke-width="0.22" >713.9 eV</text>
<text x="339.7" y="181.0" text-anchor="start" font-size="7.05" font-weight="normal" fill="#f0306a" stroke="#f0306a" stroke-width="0.22" >710.9 eV</text>
<path d="M217.20,228.20 C218.50,228.28 222.43,228.47 225.00,228.70 C227.57,228.93 230.10,229.05 232.60,229.60 C235.10,230.15 237.45,230.95 240.00,232.00 C242.55,233.05 245.23,234.65 247.90,235.90 C250.57,237.15 252.98,238.13 256.00,239.50 C259.02,240.87 262.95,242.92 266.00,244.10 C269.05,245.28 271.30,245.83 274.30,246.60 C277.30,247.37 280.73,247.92 284.00,248.70 C287.27,249.48 290.77,250.55 293.90,251.30 C297.03,252.05 299.60,252.60 302.80,253.20 C306.00,253.80 309.60,254.25 313.10,254.90 C316.60,255.55 320.22,255.83 323.80,257.10 C327.38,258.37 331.32,260.08 334.60,262.50 C337.88,264.92 340.22,267.93 343.50,271.60 C346.78,275.27 350.70,280.98 354.30,284.50 C357.90,288.02 361.52,290.97 365.10,292.70 C368.68,294.43 372.57,294.47 375.80,294.90 C379.03,295.33 383.05,295.23 384.50,295.30" fill="none" stroke="#8a4fdc" stroke-width="1.1" stroke-linejoin="round" stroke-linecap="round" opacity="1"/>
<path d="M217.20,228.10 C218.82,227.38 223.85,225.60 226.90,223.80 C229.95,222.00 233.35,218.92 235.50,217.30 C237.65,215.68 238.35,214.10 239.80,214.10 C241.25,214.10 242.40,214.97 244.20,217.30 C246.00,219.63 248.45,224.68 250.60,228.10 C252.75,231.52 254.58,235.12 257.10,237.80 C259.62,240.48 263.18,242.87 265.70,244.20 C268.22,245.53 270.48,245.40 272.20,245.80 C273.92,246.20 275.37,246.47 276.00,246.60" fill="none" stroke="#58dc44" stroke-width="1.0" stroke-linejoin="round" stroke-linecap="round" opacity="1"/>
<path d="M217.20,228.10 C218.47,228.28 222.10,229.20 224.80,229.20 C227.50,229.20 230.90,228.83 233.40,228.10 C235.90,227.37 237.65,226.60 239.80,224.80 C241.95,223.00 244.32,220.35 246.30,217.30 C248.28,214.25 249.90,208.93 251.70,206.50 C253.50,204.07 255.13,201.98 257.10,202.70 C259.07,203.42 261.83,207.92 263.50,210.80 C265.17,213.68 266.07,217.40 267.10,220.00 C268.13,222.60 268.63,223.85 269.70,226.40 C270.77,228.95 272.02,232.53 273.50,235.30 C274.98,238.07 276.27,240.77 278.60,243.00 C280.93,245.23 284.32,247.22 287.50,248.70 C290.68,250.18 293.62,250.83 297.70,251.90 C301.78,252.97 309.62,254.57 312.00,255.10" fill="none" stroke="#d642c8" stroke-width="1.0" stroke-linejoin="round" stroke-linecap="round" opacity="1"/>
<path d="M262.00,243.60 C263.07,243.82 266.27,244.80 268.40,244.90 C270.53,245.00 272.87,244.65 274.80,244.20 C276.73,243.75 277.85,243.77 280.00,242.20 C282.15,240.63 285.78,236.67 287.70,234.80 C289.62,232.93 290.37,231.87 291.50,231.00 C292.63,230.13 293.23,229.55 294.50,229.60 C295.77,229.65 297.48,229.65 299.10,231.30 C300.72,232.95 302.50,236.85 304.20,239.50 C305.90,242.15 307.80,245.23 309.30,247.20 C310.80,249.17 311.70,250.03 313.20,251.30 C314.70,252.57 316.83,253.92 318.30,254.80 C319.77,255.68 321.38,256.30 322.00,256.60" fill="none" stroke="#4f52e6" stroke-width="1.0" stroke-linejoin="round" stroke-linecap="round" opacity="1"/>
<path d="M300.00,252.50 C301.00,252.42 304.15,252.50 306.00,252.00 C307.85,251.50 309.10,251.17 311.10,249.50 C313.10,247.83 316.10,244.42 318.00,242.00 C319.90,239.58 320.95,236.83 322.50,235.00 C324.05,233.17 325.92,231.42 327.30,231.00 C328.68,230.58 329.77,231.50 330.80,232.50 C331.83,233.50 332.48,234.78 333.50,237.00 C334.52,239.22 335.10,241.55 336.90,245.80 C338.70,250.05 341.98,256.97 344.30,262.50 C346.62,268.03 349.13,275.33 350.80,279.00 C352.47,282.67 353.72,283.58 354.30,284.50" fill="none" stroke="#4f52e6" stroke-width="1.0" stroke-linejoin="round" stroke-linecap="round" opacity="1"/>
<path d="M305.00,253.50 C307.25,253.92 315.03,255.92 318.50,256.00 C321.97,256.08 323.88,255.08 325.80,254.00 C327.72,252.92 328.80,251.33 330.00,249.50 C331.20,247.67 332.05,245.42 333.00,243.00 C333.95,240.58 334.50,239.35 335.70,235.00 C336.90,230.65 338.85,222.68 340.20,216.90 C341.55,211.12 342.75,204.62 343.80,200.30 C344.85,195.98 345.55,193.33 346.50,191.00 C347.45,188.67 348.58,186.72 349.50,186.30 C350.42,185.88 351.02,186.22 352.00,188.50 C352.98,190.78 354.30,194.85 355.40,200.00 C356.50,205.15 357.70,212.58 358.60,219.40 C359.50,226.22 360.08,234.72 360.80,240.90 C361.52,247.08 361.83,251.02 362.90,256.50 C363.97,261.98 365.40,268.58 367.20,273.80 C369.00,279.02 371.53,284.40 373.70,287.80 C375.87,291.20 378.40,292.95 380.20,294.20 C382.00,295.45 383.78,295.12 384.50,295.30" fill="none" stroke="#f23a68" stroke-width="1.0" stroke-linejoin="round" stroke-linecap="round" opacity="1"/>
<polyline points="217.20,227.45 217.63,227.17 218.50,223.78 219.40,225.32 220.54,223.88 222.00,223.37 222.89,224.72 223.90,223.94 224.98,221.45 226.10,223.53 227.22,223.44 228.30,219.38 229.34,219.50 230.38,220.26 231.41,217.61 232.44,218.73 233.47,217.65 234.50,216.12 235.52,213.25 236.54,214.78 237.55,211.93 238.56,213.78 239.58,210.55 240.60,211.70 241.66,208.07 242.76,206.71 243.86,208.49 244.92,205.61 245.92,205.88 246.80,202.80 248.23,203.97 249.37,199.04 250.40,200.27 251.70,196.26 253.00,198.64 254.17,197.05 255.45,199.47 256.60,196.92 257.91,199.43 259.00,198.43 259.94,201.28 260.90,206.11 262.05,207.98 263.50,208.47 264.46,212.17 265.56,212.77 266.71,218.29 267.80,218.61 268.79,223.53 269.73,227.60 270.70,229.75 271.80,230.67 272.81,234.24 273.91,233.53 275.06,235.91 276.20,233.76 277.30,237.09 278.35,237.42 279.37,234.18 280.38,237.14 281.39,234.04 282.40,235.37 283.42,234.99 284.44,234.83 285.46,234.61 286.48,233.78 287.50,232.13 288.54,232.82 289.60,232.91 290.65,230.09 291.66,229.44 292.60,231.81 293.91,229.32 295.09,230.56 296.40,233.07 297.34,234.24 298.35,232.72 299.40,232.75 300.46,233.41 301.50,236.51 302.52,234.32 303.53,237.48 304.54,236.52 305.56,239.12 306.60,239.46 307.64,237.50 308.69,241.23 309.75,238.56 310.84,241.42 312.00,241.99 313.06,240.75 314.21,242.53 315.39,240.21 316.54,243.89 317.59,240.53 318.50,241.38 319.83,240.72 320.79,241.65 321.70,237.40 323.07,238.21 324.50,233.85 325.67,234.73 326.94,230.08 328.20,230.56 329.40,226.57 330.60,226.73 331.80,221.45 333.06,218.89 334.33,217.99 335.50,216.67 336.90,211.73 338.30,208.41 339.47,204.34 340.73,201.39 342.00,199.21 343.23,194.49 344.47,191.76 345.70,188.93 346.97,185.77 348.23,184.89 349.40,183.35 350.83,183.83 352.20,185.11 353.28,189.15 354.40,192.51 355.40,198.27 356.44,206.09 357.50,215.54 358.51,222.99 359.66,232.56 360.80,240.32 361.91,249.26 363.01,255.96 364.00,263.27 365.10,269.48 366.20,276.51 367.15,281.05 368.21,288.22 369.40,291.48 370.40,293.98 371.48,293.46 372.60,294.36 373.70,293.63 374.77,295.82 375.85,295.76 376.93,296.54 378.00,297.78 379.12,296.96 380.28,294.90 381.37,294.31 382.30,292.91 383.67,295.58 384.50,300.26" fill="none" stroke="#2c2c2c" stroke-width="0.8" stroke-linejoin="round"/>
</svg></body></html>
